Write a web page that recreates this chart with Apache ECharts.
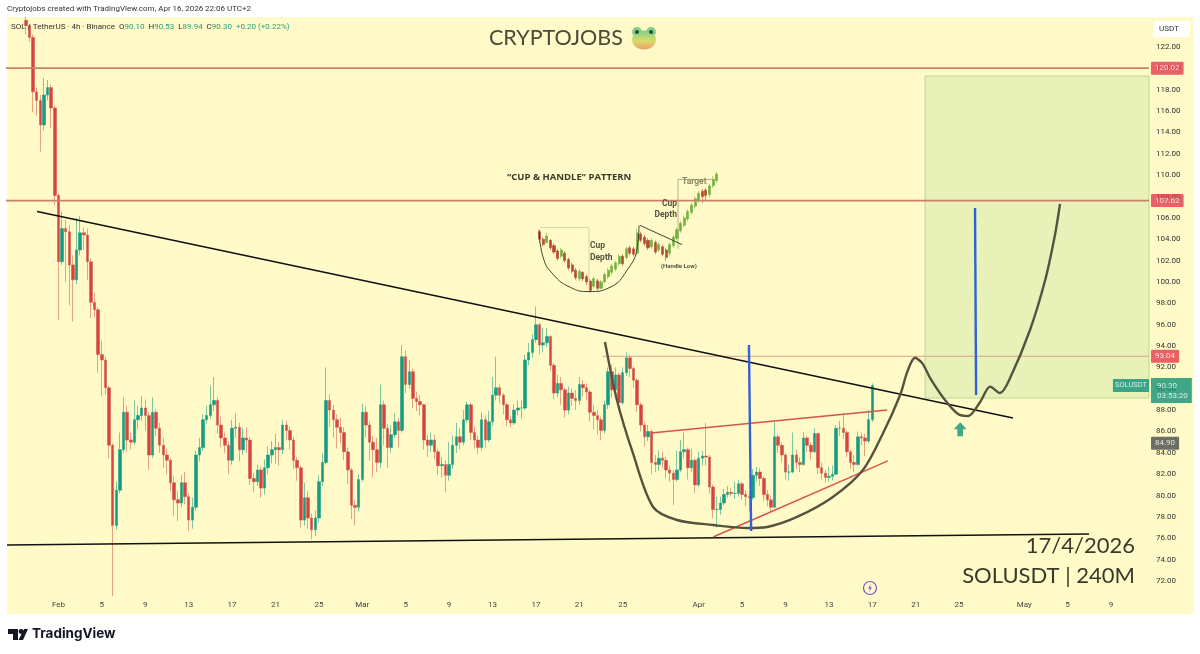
<!DOCTYPE html>
<html>
<head>
<meta charset="utf-8">
<title>SOLUSDT 240M</title>
<style>html,body{margin:0;padding:0;background:#fff}#main{width:1200px;height:654px}</style>
<script src="https://cdn.jsdelivr.net/npm/echarts@6/dist/echarts.min.js"></script>
</head>
<body>
<div id="main"></div>
<script>
// axis ticks
const priceTicks = [72,74,76,78,80,82,84,86,88,90,92,94,96,98,100,102,104,106,108,110,112,114,116,118,120,122];
const tickDays = ['02-01','02-05','02-09','02-13','02-17','02-21','02-25','03-01','03-05','03-09','03-13','03-17','03-21','03-25','04-01','04-05','04-09','04-13','04-17','04-21','04-25','05-01','05-05','05-09'];
const tickLabels = ['Feb','5','9','13','17','21','25','Mar','5','9','13','17','21','25','Apr','5','9','13','17','21','25','May','5','9'];

// price candles, first candle sits in slot 5
const firstSlot = 5;
const firstOpen = 124.5;
const closes = [124.0,122.9,117.8,117.0,114.7,117.5,118.2,116.3,108.1,101.9,105.0,104.7,101.6,100.2,103.0,104.6,104.4,101.9,98.1,97.4,93.2,92.7,90.1,84.7,77.2,80.5,
84.3,87.8,85.2,85.0,87.1,87.5,88.2,87.5,83.8,87.8,86.3,84.7,83.8,83.3,81.2,79.6,79.3,81.2,79.9,77.7,78.9,83.8,84.5,87.1,87.5,88.5,88.9,86.6,85.4,84.7,83.3,86.3,86.4,84.3,85.4,85.2,81.6,81.3,82.4,80.7,82.6,83.8,84.3,84.5,84.3,86.6,86.1,85.2,83.3,82.6,
77.7,79.8,77.9,76.8,77.9,81.3,83.1,88.9,88.0,87.1,86.4,85.9,84.1,82.4,79.1,78.9,81.5,87.8,86.6,85.0,84.3,83.1,88.5,86.3,84.5,85.7,86.9,86.1,93.0,90.4,91.6,89.1,88.8,88.5,85.2,84.7,85.2,84.1,82.8,82.9,81.9,82.9,84.7,85.5,85.0,87.1,88.5,85.9,85.2,84.5,87.1,85.2,86.9,89.4,90.1,89.4,88.5,87.1,86.8,88.0,88.2,88.2,92.7,93.4,94.6,96.0,94.1,94.3,94.9,92.2,89.6,90.5,89.9,88.0,89.6,89.1,88.9,90.4,90.1,89.7,87.8,87.5,87.1,86.1,88.5,91.6,89.9,91.3,88.7,91.5,92.9,91.9,90.8,88.5,86.6,85.5,86.0,
83.1,82.9,83.5,83.3,82.4,82.1,81.5,82.4,84.1,84.3,82.6,83.3,81.0,83.5,83.7,83.6,80.8,78.7,78.7,79.3,80.1,80.3,80.2,80.2,81.1,80.1,79.9,79.8,81.9,82.2,81.6,80.1,79.6,78.9,85.5,84.7,83.8,82.2,82.2,83.8,83.1,82.9,85.4,84.7,84.1,85.8,82.6,82.1,81.7,81.8,82.0,86.3,86.3,85.9,84.1,83.1,82.9,85.5,85.4,85.1,87.1,90.3];
const highs = [124.8,124.1,123.2,118.2,117.5,119.1,118.9,118.5,116.5,108.3,106.6,105.8,105.3,102.5,106.0,106.2,105.1,105.0,102.2,99.0,97.6,94.5,93.0,90.3,84.9,81.3,
85.9,89.2,88.4,85.9,88.9,88.4,89.3,89.0,87.8,89.2,88.1,86.8,85.4,84.4,83.5,81.8,80.4,81.9,82.2,80.2,79.8,84.2,85.4,87.6,88.4,90.3,91.1,89.2,87.4,85.9,85.1,87.1,87.7,86.8,86.3,86.4,85.5,82.1,82.9,82.7,83.4,84.6,85.1,85.8,85.0,87.1,87.0,86.5,85.5,83.6,
82.8,81.2,80.4,78.3,78.6,81.9,83.9,92.0,89.5,88.5,87.6,87.3,86.4,84.5,82.6,79.6,82.0,88.6,88.4,86.9,85.6,85.4,90.4,88.9,86.7,86.6,87.7,87.3,94.1,93.6,92.7,91.9,89.7,89.4,88.6,85.7,85.9,85.7,84.4,83.6,83.3,85.0,85.6,86.8,86.3,88.0,88.8,88.7,86.5,85.6,87.8,87.5,87.9,91.1,93.0,90.4,89.6,88.7,87.5,88.5,88.9,88.9,93.2,94.3,95.1,97.7,96.2,95.7,95.7,95.0,92.4,91.3,91.1,90.1,90.2,90.0,89.9,91.1,90.8,90.5,89.9,88.5,88.0,87.4,88.9,92.0,92.3,92.0,91.5,92.0,93.4,93.2,92.1,91.0,88.7,86.9,86.6,
86.2,83.8,84.2,84.1,83.6,82.8,82.4,84.2,85.2,85.9,84.5,84.4,83.5,84.1,84.2,86.8,83.8,81.0,79.9,79.9,80.6,80.9,80.7,81.3,81.5,81.3,80.5,80.4,82.5,82.7,82.6,81.8,80.5,80.0,86.9,85.8,85.0,84.0,82.9,85.9,84.3,83.6,85.9,85.6,85.0,86.3,85.9,83.1,82.4,82.7,82.8,86.6,87.0,87.7,86.1,84.3,83.8,86.0,85.9,85.8,88.0,90.5];
const lows = [123.2,122.5,115.9,115.6,112.2,114.2,117.0,114.4,107.2,96.4,101.6,100.0,97.8,96.3,99.8,102.5,103.0,100.2,96.6,96.7,91.5,89.3,89.4,83.5,70.6,76.8,
80.2,84.0,84.1,84.3,84.8,86.2,87.0,86.1,82.4,83.5,85.6,84.0,82.6,82.0,80.4,78.1,77.6,78.9,79.2,76.7,76.9,78.6,83.2,84.2,86.7,87.2,87.9,85.8,84.5,84.0,82.0,82.9,85.4,83.2,83.8,84.0,81.0,80.3,80.9,79.8,80.1,82.0,83.0,83.0,82.8,83.9,85.2,84.3,82.5,81.4,
77.0,77.2,76.9,75.9,76.2,77.5,80.9,82.9,86.4,85.4,84.4,84.9,83.3,81.1,77.8,77.2,78.5,81.3,85.4,83.3,81.7,82.2,82.6,84.7,82.6,84.0,85.4,84.5,85.9,89.6,90.0,88.2,87.9,87.5,84.3,83.6,84.1,83.4,81.9,81.7,80.3,81.4,82.5,84.0,84.3,84.7,86.8,85.2,84.4,83.9,84.2,84.5,85.0,86.5,88.9,88.6,87.6,86.5,86.4,86.6,87.5,87.2,88.0,92.2,92.9,94.3,93.2,93.4,93.9,91.7,89.0,89.2,88.5,87.3,87.6,88.4,88.0,88.5,89.3,88.9,86.9,86.2,85.7,85.2,85.8,88.1,89.2,89.5,88.0,88.5,91.2,91.1,90.1,87.8,86.0,84.6,85.1,
82.0,82.2,82.3,82.6,81.6,81.3,79.1,81.3,82.2,83.5,81.5,82.2,80.2,80.8,82.8,82.8,80.2,77.9,77.0,78.2,79.1,79.8,79.9,79.7,79.9,79.6,79.0,78.5,79.6,81.3,80.9,79.5,79.0,78.4,78.9,84.0,83.1,81.5,81.4,82.1,82.5,82.2,82.8,84.1,83.3,84.0,82.0,81.5,81.2,81.3,81.4,81.9,85.6,85.3,83.6,82.5,82.2,82.8,84.7,83.7,84.9,86.9];

// the small cup & handle drawing, its own candles
const insetFirstSlot = 147;
const insetOpens = [104.7,104.0,103.7,103.9,103.4,102.9,102.4,102.7,102.1,101.6,101.1,100.3,100.9,100.5,100.1,99.6,100.1,99.4,100.0,100.5,100.9,101.2,101.7,102.4,102.3,103.2,103.1,102.7,104.5,104.2,103.9,103.3,103.7,103.0,103.3,103.0,102.7,103.4,104.1,104.8,105.3,105.9,106.5,107.1,107.6,108.5,108.6,108.2,109.0,109.5];
const insetCloses = [104.0,103.5,104.3,103.2,102.8,102.2,103.0,102.0,101.3,101.0,100.4,101.0,100.3,100.0,99.2,100.3,99.4,100.0,100.7,101.1,101.5,101.8,102.4,101.7,103.1,102.7,102.6,104.6,103.9,103.6,103.2,103.9,102.8,103.5,102.6,102.3,103.5,104.2,104.9,105.5,106.0,106.6,107.2,107.8,108.3,108.0,108.1,109.0,109.6,110.1];
const insetLows = [103.7,103.3,103.6,103.0,102.6,102.0,102.2,101.8,101.1,100.8,100.2,100.1,100.1,99.7,99.0,99.4,99.2,99.3,99.9,100.3,100.7,101.0,101.5,101.5,102.1,102.5,102.4,102.5,103.7,103.4,103.0,103.1,102.6,102.8,102.4,102.0,102.4,103.2,103.9,104.6,105.1,105.7,106.3,106.9,107.4,107.4,107.6,107.9,108.8,109.3];
const insetHighs = [104.8,104.2,104.6,104.0,103.6,103.1,103.2,102.9,102.3,101.8,101.3,101.2,101.0,100.7,100.3,100.5,100.3,100.2,100.9,101.3,101.7,102.0,102.6,102.6,103.3,103.4,103.3,105.0,104.7,104.4,104.1,104.1,103.9,103.7,103.5,103.2,103.7,104.4,105.1,105.7,106.2,106.8,107.4,108.0,108.5,108.7,108.8,109.2,109.9,110.3];

// drawn lines as [bar position, price]
const trendTop = [[8.6,106.6],[278.4,87.26]];
const trendSupport = [[0.3,75.37],[299.4,76.4]];
const blueLeft = [[205.4,94.1],[206,76.68]];
const blueRight = [[267.9,106.93],[268.2,89.42]];
const redUpper = [[178.3,85.86],[243.6,88.01]];
const redLower = [[195.5,76.12],[243.8,83.24]];
const level120 = [[0,120.02],[316,120.02]];
const level107 = [[0,107.62],[316,107.62]];
const level93 = [[165,93.04],[316,93.04]];
const bigCurve = [[165.6,94.38],[168.9,88.95],[173.3,83.99],[178.9,78.93],[185.5,77.71],[195.5,77.24],[204.9,76.96],[210.4,77.06],[218.7,78.0],[228.6,79.87],[236.9,82.39],[242.5,85.86],[247.2,89.42],[249.2,91.6],[251.3,92.9],[253.3,92.4],[255.5,91.0],[259.6,88.95],[263.2,87.64],[266,87.45],[269.3,88.76],[272.1,90.2],[274.8,89.6],[277.6,91.0],[283.1,95.5],[287.3,100.18],[290,104.4],[291.4,107.3]];
const insetCup = [[147.4,104.9],[148.5,102.3],[151.3,100.7],[156,99.5],[161.2,99.1],[167,99.5],[171.7,101.1],[174.5,103.2],[175,105.3]];
const insetHandle = [[175.3,105.3],[186.9,103.5]];
const insetDepthA = [[147.6,105.1],[161.2,105.1],[161.2,99.1]];
const insetDepthB = [[185.8,103.1],[185.8,109.6],[196,109.6]];
const targetBox = [[254.1,119.28],[316,89.13]];
const arrowPoint = [263.8,86.2];
const priceTags = [[120.02,'#e5394b'],[107.62,'#e5394b'],[93.04,'#e5394b'],[84.90,'#4a4a4a']];
const lastPrice = 90.30;

const slotCount = 316;
const categories = [];
for (let i = 0; i < slotCount; i++) {
    // one slot is 8 hours, first slot is Jan 27 08:00
    const d = new Date(Date.UTC(2026, 0, 27, 8 + i * 8));
    categories.push(d.toISOString().slice(5, 13).replace('T', ' '));
}
const tickMap = {};
tickDays.forEach((d, i) => { tickMap[d + ' 00'] = tickLabels[i]; });

const candleData = closes.map((c, i) => [firstSlot + i, i === 0 ? firstOpen : closes[i - 1], c, lows[i], highs[i]]);
const insetData = insetCloses.map((c, i) => [insetFirstSlot + i, insetOpens[i], c, insetLows[i], insetHighs[i]]);

const lineSeries = (data, color, width, extra) => Object.assign({
    type: 'line', xAxisIndex: 1, yAxisIndex: 0, data: data, symbol: 'none', silent: true,
    lineStyle: { color: color, width: width }, z: 5
}, extra || {});

const uiFont = 'Roboto, "Noto Sans", sans-serif';
const txt = (x, y, text, size, color, extra) => ({
    type: 'text', x: x, y: y, z: 100, silent: true,
    style: Object.assign({ text: text, fontSize: size, fill: color, fontFamily: uiFont, verticalAlign: 'middle', align: 'left' }, extra || {})
});

const chart = echarts.init(document.getElementById('main'), null, { renderer: 'canvas' });
chart.setOption({
    animation: false,
    backgroundColor: '#ffffff',
    grid: { left: 6, right: 51, top: 17, bottom: 40, containLabel: false },
    xAxis: [
        {
            type: 'category', data: categories, boundaryGap: true,
            axisLine: { show: false }, axisTick: { show: false }, splitLine: { show: false },
            axisLabel: {
                inside: true, margin: 5, fontSize: 8, color: '#444', fontFamily: uiFont, hideOverlap: false,
                interval: (idx, val) => val in tickMap,
                formatter: val => tickMap[val] || ''
            }
        },
        { type: 'value', min: 0, max: slotCount, show: false }
    ],
    yAxis: {
        type: 'value', position: 'right', min: 68.91, max: 124.81, scale: true,
        axisLine: { show: false }, axisTick: { show: false }, splitLine: { show: false },
        axisLabel: {
            customValues: priceTicks, margin: 7, fontSize: 8, color: '#333', fontFamily: uiFont,
            formatter: v => v.toFixed(2)
        }
    },
    series: [
        {
            // green target zone
            type: 'line', xAxisIndex: 1, data: [], symbol: 'none', silent: true, z: 1,
            markArea: {
                silent: true,
                itemStyle: { color: '#e7f1b8', borderColor: '#bcd98e', borderWidth: 1 },
                data: [[{ coord: targetBox[0] }, { coord: targetBox[1] }]]
            }
        },
        lineSeries(level120, '#c9806a', 1.6),
        lineSeries(level107, '#c9806a', 1.6),
        lineSeries(level93, '#d8a58f', 1),
        {
            type: 'candlestick', name: 'SOLUSDT', data: candleData, barWidth: 3, z: 3,
            encode: { x: 0, y: [1, 2, 3, 4] },
            itemStyle: {
                color: '#169c80', color0: '#d9433f',
                borderColor: 'rgba(22,156,128,0.55)', borderColor0: 'rgba(205,90,80,0.55)', borderWidth: 1
            }
        },
        {
            type: 'candlestick', name: 'pattern', data: insetData, barWidth: 2.6, z: 3,
            encode: { x: 0, y: [1, 2, 3, 4] },
            itemStyle: {
                color: '#6fb23e', color0: '#b04a30',
                borderColor: '#6fb23e', borderColor0: '#b04a30', borderWidth: 0.6
            }
        },
        lineSeries(insetDepthA, '#cfcc9c', 0.8),
        lineSeries(insetDepthB, '#a3a27a', 0.8),
        lineSeries(insetCup, '#45432f', 1, { smooth: 0.5 }),
        lineSeries(insetHandle, '#45432f', 1),
        lineSeries(trendTop, '#111111', 1.5, { z: 6 }),
        lineSeries(trendSupport, '#111111', 1.5, { z: 6 }),
        lineSeries(redUpper, '#d9534a', 1.4, { z: 6 }),
        lineSeries(redLower, '#d9534a', 1.4, { z: 6 }),
        lineSeries(bigCurve, '#55533f', 2.4, { smooth: 0.3, z: 7 }),
        lineSeries(blueLeft, '#2f62d6', 2.4, { z: 8 }),
        lineSeries(blueRight, '#2f62d6', 2.4, { z: 8 }),
        {
            type: 'scatter', xAxisIndex: 1, data: [arrowPoint], silent: true, z: 8,
            symbol: 'path://M5 0 L10 5.5 L7.2 5.5 L7.2 11 L2.8 11 L2.8 5.5 L0 5.5 Z',
            symbolSize: [13, 14], itemStyle: { color: '#0f9278' }
        },
        {
            // price tags on the right scale
            type: 'scatter', xAxisIndex: 1, silent: true, z: 20, symbolSize: 0, clip: false,
            data: priceTags.map(t => ({
                value: [slotCount, t[0]],
                label: { backgroundColor: t[1] }
            })),
            label: {
                show: true, position: 'right', distance: 2, color: '#fff', fontSize: 8, fontFamily: uiFont,
                padding: [3, 4, 2, 4], borderRadius: 1,
                formatter: p => p.value[1].toFixed(2)
            }
        },
        {
            type: 'scatter', xAxisIndex: 1, silent: true, z: 20, symbolSize: 0, clip: false,
            data: [[slotCount, lastPrice]],
            label: {
                show: true, position: 'right', distance: 2, offset: [0, 5], color: '#fff', fontSize: 8, fontFamily: uiFont,
                backgroundColor: '#0f9278', padding: [3, 4, 2, 6], lineHeight: 10, align: 'left',
                formatter: p => p.value[1].toFixed(2) + '\n03:53:20'
            }
        },
        {
            type: 'scatter', xAxisIndex: 1, silent: true, z: 20, symbolSize: 0, clip: false,
            data: [[slotCount, lastPrice]],
            label: {
                show: true, position: 'left', distance: 0, color: '#fff', fontSize: 7.5, fontFamily: uiFont,
                backgroundColor: '#0f9278', padding: [3, 2, 2, 2], formatter: 'SOLUSDT'
            }
        }
    ],
    graphic: [
        { type: 'rect', z: -10, silent: true, shape: { x: 7, y: 17, width: 1187, height: 597 }, style: { fill: '#fffac8' } },
        txt(7, 9, 'Cryptojobs created with TradingView.com, Apr 16, 2026 22:06 UTC+2', 8, '#333'),
        {
            type: 'text', x: 11, y: 27, z: 100, silent: true,
            style: {
                rich: {
                    d: { fontSize: 8, fill: '#333', fontFamily: uiFont },
                    g: { fontSize: 8, fill: '#2a9d80', fontFamily: uiFont }
                },
                text: '{d|SOL / TetherUS · 4h · Binance  O}{g|90.10}{d|  H}{g|90.53}{d|  L}{g|89.94}{d|  C}{g|90.30}{g|  +0.20 (+0.22%)}',
                verticalAlign: 'middle'
            }
        },
        txt(489, 38, 'CRYPTOJOBS', 21.5, '#4b4a3a', { fontFamily: 'Lato, "Noto Sans", sans-serif' }),
        // frog
        {
            type: 'group', x: 644, y: 40, z: 100, silent: true,
            children: [
                { type: 'circle', z: 100, shape: { cx: -7, cy: -8, r: 5 }, style: { fill: '#7fd08a' } },
                { type: 'circle', z: 100, shape: { cx: 7, cy: -8, r: 5 }, style: { fill: '#7fd08a' } },
                {
                    type: 'ellipse', z: 100, shape: { cx: 0, cy: 0, rx: 12, ry: 9.5 },
                    style: { fill: new echarts.graphic.LinearGradient(0, 0, 0, 1, [{ offset: 0, color: '#7fd08a' }, { offset: 0.55, color: '#d9dc6a' }, { offset: 1, color: '#f39a6b' }]) }
                },
                { type: 'circle', z: 101, shape: { cx: -7, cy: -8, r: 2 }, style: { fill: '#2d4a3a' } },
                { type: 'circle', z: 101, shape: { cx: 7, cy: -8, r: 2 }, style: { fill: '#2d4a3a' } }
            ]
        },
        txt(507, 177, '“CUP & HANDLE” PATTERN', 9.5, '#3a3a2c', { fontWeight: 'bold', fontFamily: '"Open Sans", sans-serif' }),
        txt(590, 246, 'Cup', 8.5, '#55533f', { fontWeight: 'bold' }),
        txt(590, 258, 'Depth', 8.5, '#55533f', { fontWeight: 'bold' }),
        txt(677, 204, 'Cup', 8.5, '#55533f', { fontWeight: 'bold', align: 'right' }),
        txt(677, 215, 'Depth', 8.5, '#55533f', { fontWeight: 'bold', align: 'right' }),
        txt(682, 182, 'Target', 8.5, '#8a8862', { fontWeight: 'bold' }),
        txt(661, 266, '(Handle Low)', 6, '#55533f', { fontWeight: 'bold' }),
        { type: 'rect', z: 99, silent: true, shape: { x: 1153, y: 21, width: 37, height: 16, r: 2 }, style: { fill: '#fff' } },
        txt(1159, 29, 'USDT', 8, '#333'),
        txt(1135, 546, '17/4/2026', 22, '#3a3a2c', { align: 'right', fontFamily: 'Lato, "Noto Sans", sans-serif' }),
        txt(1135, 576, 'SOLUSDT | 240M', 22, '#3a3a2c', { align: 'right', fontFamily: 'Lato, "Noto Sans", sans-serif' }),
        // flash icon
        { type: 'circle', z: 100, silent: true, shape: { cx: 870, cy: 588, r: 6.5 }, style: { fill: '#fffac8', stroke: '#7e57c2', lineWidth: 1.2 } },
        { type: 'polygon', z: 101, silent: true, shape: { points: [[871, 584], [868, 588.5], [870, 588.5], [869, 592], [872, 587.5], [870, 587.5]] }, style: { fill: '#7e57c2' } },
        // TradingView mark
        { type: 'polygon', z: 100, silent: true, shape: { points: [[8, 629], [18, 629], [18, 640], [13, 640], [13, 634], [8, 634]] }, style: { fill: '#131722' } },
        { type: 'circle', z: 100, silent: true, shape: { cx: 21, cy: 631.5, r: 2.4 }, style: { fill: '#131722' } },
        { type: 'polygon', z: 100, silent: true, shape: { points: [[24, 629], [28, 629], [23, 640], [18.5, 640]] }, style: { fill: '#131722' } },
        txt(32, 634, 'TradingView', 13.5, '#131722', { fontWeight: 'bold', fontFamily: 'Inter, Roboto, sans-serif' })
    ]
});

window.addEventListener('resize', () => chart.resize());
</script>
</body>
</html>
